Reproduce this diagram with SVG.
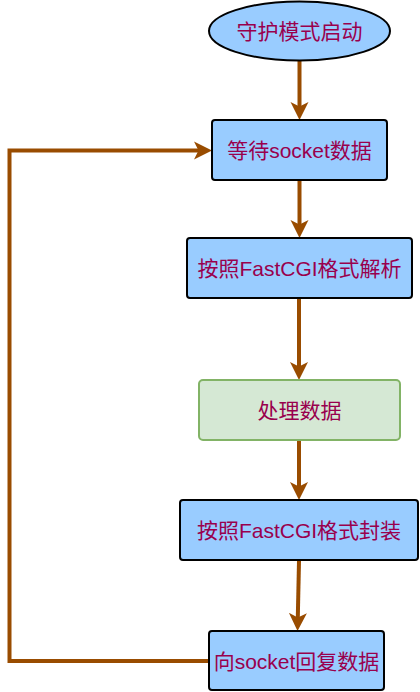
<svg xmlns="http://www.w3.org/2000/svg" width="420" height="692" viewBox="0 0 420 692">
<defs>
<style>
.blue{fill:#99ccff;stroke:#000;stroke-width:2}
.green{fill:#d5e8d4;stroke:#82b366;stroke-width:2}
.lbl{font-family:"Liberation Sans","Noto Sans CJK SC",sans-serif;font-size:21px;fill:#99004d;text-anchor:middle}
.edge{fill:none;stroke:#994c00;stroke-width:4}
</style>
<marker id="ah" markerUnits="userSpaceOnUse" markerWidth="20" markerHeight="20" viewBox="0 0 20 20" refX="5" refY="10" orient="auto">
<path d="M0,1 L18,10 L0,19 L4.5,10 Z" fill="#994c00"/>
</marker>
</defs>
<rect width="420" height="692" fill="#fff"/>
<g id="connectors">
<path class="edge" d="M299.5,61 L299.5,107" marker-end="url(#ah)"/>
<path class="edge" d="M299.5,181 L299.5,225" marker-end="url(#ah)"/>
<path class="edge" d="M299,299 L299,367" marker-end="url(#ah)"/>
<path class="edge" d="M299,441 L299,487" marker-end="url(#ah)"/>
<path class="edge" d="M299,561 L297.8,618" marker-end="url(#ah)"/>
<path class="edge" d="M209,661 L9.5,661 L9.5,150.5 L199,150.5" marker-end="url(#ah)"/>
</g>
<g id="start">
<ellipse cx="299.5" cy="31" rx="90.5" ry="29.5" fill="#99ccff" stroke="#000" stroke-width="2"/>
<text class="lbl" x="299.5" y="38.5">守护模式启动</text>
</g>
<g id="wait">
<rect class="blue" x="212" y="120" width="175" height="60" rx="3"/>
<text class="lbl" x="299.5" y="158">等待socket数据</text>
</g>
<g id="parse">
<rect class="blue" x="187" y="238" width="225" height="60" rx="3"/>
<text class="lbl" x="299.5" y="276">按照FastCGI格式解析</text>
</g>
<g id="process">
<rect class="green" x="199" y="380" width="201" height="60" rx="4"/>
<text class="lbl" x="299.5" y="418">处理数据</text>
</g>
<g id="pack">
<rect class="blue" x="180" y="500" width="238" height="60" rx="3"/>
<text class="lbl" x="299" y="538">按照FastCGI格式封装</text>
</g>
<g id="reply">
<rect class="blue" x="209" y="631" width="175" height="59" rx="3"/>
<text class="lbl" x="296.5" y="669">向socket回复数据</text>
</g>
</svg>
